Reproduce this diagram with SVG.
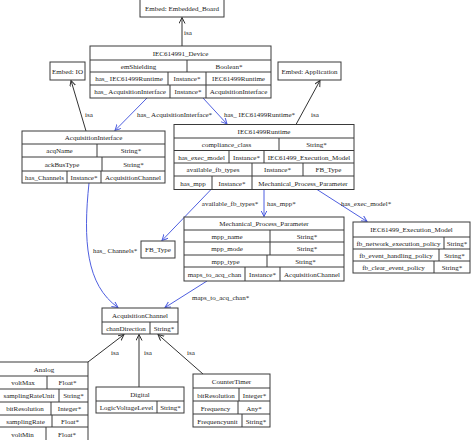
<svg xmlns="http://www.w3.org/2000/svg" width="474" height="440" viewBox="0 0 474 440">
<defs>
<style>
text{font-family:"Liberation Serif","Times New Roman",serif;font-size:7px;fill:#222}
.c{text-anchor:middle}
.box{fill:#fff;stroke:#3a3a3a;stroke-width:1}
.ln{stroke:#3a3a3a;stroke-width:1;fill:none}
.isa{stroke:#333;stroke-width:1;fill:none;marker-end:url(#ab)}
.rel{stroke:#4f5fe0;stroke-width:1;fill:none;marker-end:url(#au)}
</style>
<marker id="ab" markerWidth="8" markerHeight="8" refX="6" refY="3" orient="auto" markerUnits="userSpaceOnUse"><path d="M0,0 L6,3 L0,6" fill="none" stroke="#333" stroke-width="1"/></marker>
<marker id="au" markerWidth="8" markerHeight="8" refX="6" refY="3" orient="auto" markerUnits="userSpaceOnUse"><path d="M0,0 L6,3 L0,6" fill="none" stroke="#4f5fe0" stroke-width="1"/></marker>
</defs>
<rect width="474" height="440" fill="#fff"/>

<g id="connectors">
<line class="isa" x1="182" y1="46" x2="182" y2="17.5"/>
<line class="isa" x1="86" y1="131" x2="71" y2="80.5"/>
<line class="isa" x1="296" y1="124.5" x2="320" y2="80.5"/>
<line class="rel" x1="147" y1="98" x2="115" y2="130.5"/>
<line class="rel" x1="203" y1="98" x2="227" y2="124"/>
<line class="rel" x1="211" y1="189.5" x2="162" y2="240.5"/>
<line class="rel" x1="264" y1="189.5" x2="264" y2="216.5"/>
<line class="rel" x1="317" y1="189.5" x2="367" y2="221.5"/>
<line class="rel" x1="207" y1="281" x2="165" y2="307.5"/>
<path class="rel" d="M89,183 C83,240 86,285 118,307.5"/>
<line class="isa" x1="88" y1="362" x2="124" y2="334.5"/>
<line class="isa" x1="139" y1="387" x2="139" y2="334.5"/>
<line class="isa" x1="203" y1="374" x2="158" y2="334.5"/>
<text x="184" y="35">isa</text>
<text x="85" y="117">isa</text>
<text class="c" x="174.5" y="117">has_ AcquisitionInterface*</text>
<text class="c" x="259.5" y="117">has_ IEC61499Runtime*</text>
<text x="311" y="117">isa</text>
<text class="c" x="230" y="206">available_fb_types*</text>
<text x="267" y="206">has_mpp*</text>
<text x="341" y="206">has_exec_model*</text>
<text x="93" y="253">has_ Channels*</text>
<text x="192" y="300">maps_to_acq_chan*</text>
<text x="111" y="355">isa</text>
<text x="144" y="355">isa</text>
<text x="187" y="355">isa</text>
</g>

<g id="embedded_board">
<rect class="box" x="140" y="-1" width="84" height="18"/>
<text class="c" x="182" y="11">Embed: Embedded_Board</text>
</g>

<g id="device">
<rect class="box" x="90" y="46" width="181" height="52"/>
<path class="ln" d="M90,60H271M90,72H271M90,85H271M187,60V72M168,72V85M206,72V98M170,85V98"/>
<text class="c" x="180.5" y="55.5">IEC614991_Device</text>
<text class="c" x="138.5" y="68.5">emShielding</text>
<text class="c" x="229" y="68.5">Boolean*</text>
<text class="c" x="129" y="81">has_ IEC61499Runtime</text>
<text class="c" x="187" y="81">Instance*</text>
<text class="c" x="238.5" y="81">IEC61499Runtime</text>
<text class="c" x="130" y="94">has_ AcquisitionInterface</text>
<text class="c" x="188" y="94">Instance*</text>
<text class="c" x="238.5" y="94">AcquisitionInterface</text>
</g>

<g id="embed_io">
<rect class="box" x="50" y="62" width="35" height="18"/>
<text class="c" x="67.5" y="73.5">Embed: IO</text>
</g>

<g id="embed_application">
<rect class="box" x="278" y="62" width="63" height="18"/>
<text class="c" x="309.5" y="73.5">Embed: Application</text>
</g>

<g id="acquisition_interface">
<rect class="box" x="22" y="131" width="143" height="52"/>
<path class="ln" d="M22,144H165M22,157H165M22,171H165M97,144V157M102,157V171M67,171V183M101,171V183"/>
<text class="c" x="93.5" y="140">AcquisitionInterface</text>
<text class="c" x="59.5" y="153">acqName</text>
<text class="c" x="131" y="153">String*</text>
<text class="c" x="62" y="166.5">ackBusType</text>
<text class="c" x="133.5" y="166.5">String*</text>
<text class="c" x="44.5" y="179.5">has_Channels</text>
<text class="c" x="84" y="179.5">Instance*</text>
<text class="c" x="133" y="179.5">AcquisitionChannel</text>
</g>

<g id="iec61499_runtime">
<rect class="box" x="174" y="124.5" width="180" height="65"/>
<path class="ln" d="M174,138H354M174,150.5H354M174,163H354M174,176H354M279,138V150.5M229,150.5V163M264,150.5V163M252,163V176M303,163V176M212,176V189.5M252,176V189.5"/>
<text class="c" x="264" y="134">IEC61499Runtime</text>
<text class="c" x="226.5" y="147">compliance_class</text>
<text class="c" x="316.5" y="147">String*</text>
<text class="c" x="201.5" y="159.5">has_exec_model</text>
<text class="c" x="246.5" y="159.5">Instance*</text>
<text class="c" x="309" y="159.5">IEC61499_Execution_Model</text>
<text class="c" x="213" y="172">available_fb_types</text>
<text class="c" x="277.5" y="172">Instance*</text>
<text class="c" x="328.5" y="172">FB_Type</text>
<text class="c" x="193" y="185.5">has_mpp</text>
<text class="c" x="232" y="185.5">Instance*</text>
<text class="c" x="303" y="185.5">Mechanical_Process_Parameter</text>
</g>

<g id="fb_type">
<rect class="box" x="141" y="241" width="34" height="17"/>
<text class="c" x="158" y="252">FB_Type</text>
</g>

<g id="mechanical_process_parameter">
<rect class="box" x="184" y="217" width="160" height="64"/>
<path class="ln" d="M184,230H344M184,242H344M184,255H344M184,267H344M270,230V255M267,255V267M245,267V281M280,267V281"/>
<text class="c" x="264" y="226">Mechanical_Process_Parameter</text>
<text class="c" x="227" y="238.5">mpp_name</text>
<text class="c" x="307" y="238.5">String*</text>
<text class="c" x="227" y="251">mpp_mode</text>
<text class="c" x="307" y="251">String*</text>
<text class="c" x="225.5" y="263.5">mpp_type</text>
<text class="c" x="305.5" y="263.5">String*</text>
<text class="c" x="214.5" y="276.5">maps_to_acq_chan</text>
<text class="c" x="262.5" y="276.5">Instance*</text>
<text class="c" x="312" y="276.5">AcquisitionChannel</text>
</g>

<g id="iec61499_execution_model">
<rect class="box" x="353" y="222" width="117" height="51"/>
<path class="ln" d="M353,237H470M353,249H470M353,261H470M444,237V249M439,249V261M434,261V273"/>
<text class="c" x="411.5" y="232">IEC61499_Execution_Model</text>
<text class="c" x="398.5" y="245.5">fb_network_execution_policy</text>
<text class="c" x="457" y="245.5">String*</text>
<text class="c" x="396" y="257.5">fb_event_handling_policy</text>
<text class="c" x="454.5" y="257.5">String*</text>
<text class="c" x="393.5" y="269.5">fb_clear_event_policy</text>
<text class="c" x="452" y="269.5">String*</text>
</g>

<g id="acquisition_channel">
<rect class="box" x="102" y="308" width="76" height="26"/>
<path class="ln" d="M102,322H178M150,322V334"/>
<text class="c" x="140" y="318">AcquisitionChannel</text>
<text class="c" x="126" y="330.5">chanDirection</text>
<text class="c" x="164" y="330.5">String*</text>
</g>

<g id="analog">
<rect class="box" x="-1" y="362" width="89" height="80"/>
<path class="ln" d="M-1,376H88M-1,389H88M-1,402H88M-1,415H88M-1,427H88M47,376V389M59,389V402M51,402V415M52,415V427M46,427V442"/>
<text class="c" x="44" y="372">Analog</text>
<text class="c" x="23" y="385">voltMax</text>
<text class="c" x="67.5" y="385">Float*</text>
<text class="c" x="29" y="398">samplingRateUnit</text>
<text class="c" x="73.5" y="398">String*</text>
<text class="c" x="25" y="411">bitResolution</text>
<text class="c" x="69.5" y="411">Integer*</text>
<text class="c" x="25.5" y="424">samplingRate</text>
<text class="c" x="70" y="424">Float*</text>
<text class="c" x="22.5" y="437">voltMin</text>
<text class="c" x="67" y="437">Float*</text>
</g>

<g id="digital">
<rect class="box" x="96" y="387" width="88" height="26"/>
<path class="ln" d="M96,401H184M157,401V413"/>
<text class="c" x="140" y="397">Digital</text>
<text class="c" x="126.5" y="409.5">LogicVoltageLevel</text>
<text class="c" x="170.5" y="409.5">String*</text>
</g>

<g id="counter_timer">
<rect class="box" x="193" y="374" width="77" height="53"/>
<path class="ln" d="M193,388H270M193,401H270M193,414H270M239,388V401M238,401V414M242,414V427"/>
<text class="c" x="231.5" y="384">CounterTimer</text>
<text class="c" x="216" y="397.5">bitResolution</text>
<text class="c" x="254.5" y="397.5">Integer*</text>
<text class="c" x="215.5" y="410.5">Frequency</text>
<text class="c" x="254" y="410.5">Any*</text>
<text class="c" x="217.5" y="423.5">Frequencyunit</text>
<text class="c" x="256" y="423.5">String*</text>
</g>
</svg>
